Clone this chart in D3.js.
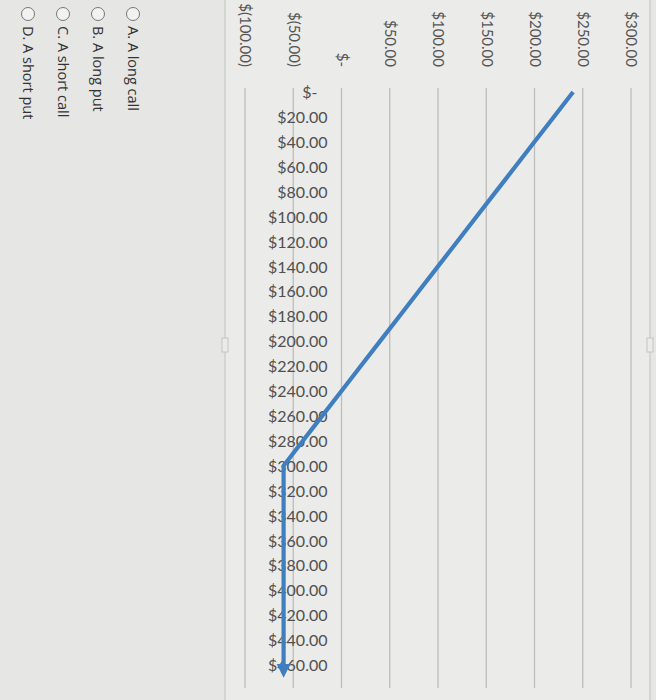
<!DOCTYPE html>
<html>
<head>
<meta charset="utf-8">
<script src="https://cdn.jsdelivr.net/npm/d3@7"></script>
<style>
  body { margin: 0; background: #e7e7e5; }
  svg { display: block; }
</style>
</head>
<body>
<div id="chart"></div>
<script>
// stock prices (category axis)
const prices = ["$-", "$20.00", "$40.00", "$60.00", "$80.00", "$100.00", "$120.00", "$140.00",
  "$160.00", "$180.00", "$200.00", "$220.00", "$240.00", "$260.00", "$280.00", "$300.00",
  "$320.00", "$340.00", "$360.00", "$380.00", "$400.00", "$420.00", "$440.00", "$460.00"]

// payoff at each price
const payoff = [240, 220, 200, 180, 160, 140, 120, 100, 80, 60, 40, 20, 0, -20, -40, -60,
  -60, -60, -60, -60, -60, -60, -60, -60]

const valueTicks = [-100, -50, 0, 50, 100, 150, 200, 250, 300]
const valueLabels = ["$(100.00)", "$(50.00)", "$-", "$50.00", "$100.00", "$150.00", "$200.00", "$250.00", "$300.00"]

const options = ["A. A long call", "B. A long put", "C. A short call", "D. A short put"]

const width = 656
const height = 700
const plotTop = 88
const plotBottom = 688

const svg = d3.select("#chart")
    .append("svg")
    .attr("width", width)
    .attr("height", height)

// photo background + chart frame
svg.append("rect")
    .attr("width", width)
    .attr("height", height)
    .attr("fill", "#e6e6e4")

svg.append("rect")
    .attr("x", 225)
    .attr("y", -2)
    .attr("width", 425)
    .attr("height", height + 4)
    .attr("fill", "#ebebe9")
    .attr("stroke", "#c8c8c6")
    .attr("stroke-width", 1.2)

// little frame handles
svg.selectAll(".handle")
    .data([225, 650])
    .join("rect")
    .attr("class", "handle")
    .attr("x", d => d - 3)
    .attr("y", 338)
    .attr("width", 6)
    .attr("height", 14)
    .attr("fill", "#ebebe9")
    .attr("stroke", "#c4c4c2")

const xScale = d3.scaleLinear()
    .domain([-100, 300])
    .range([245, 631])

const yScale = d3.scalePoint()
    .domain(prices)
    .range([92, 665])

// gridlines
svg.append("g")
    .selectAll("line")
    .data(valueTicks)
    .join("line")
    .attr("x1", d => xScale(d))
    .attr("x2", d => xScale(d))
    .attr("y1", plotTop)
    .attr("y2", plotBottom)
    .attr("stroke", "#bdbdbb")
    .attr("stroke-width", 1.3)

// value axis (rotated labels on top)
const xAxis = d3.axisTop(xScale)
    .tickValues(valueTicks)
    .tickFormat((d, i) => valueLabels[i])
    .tickSize(0)

const gx = svg.append("g")
    .attr("class", "axis x-axis")
    .attr("transform", `translate(0, ${plotTop})`)
    .call(xAxis)

gx.select(".domain").remove()
gx.selectAll("text")
    .attr("y", 0)
    .attr("x", -21)
    .attr("dy", "0.35em")
    .attr("transform", "rotate(90)")
    .style("text-anchor", "end")
    .style("font-family", "Lato, 'Open Sans', sans-serif")
    .style("font-size", "15px")
    .attr("fill", "#555")

// category axis
const yAxis = d3.axisLeft(yScale)
    .tickSize(0)
    .tickPadding(14)

const gy = svg.append("g")
    .attr("class", "axis y-axis")
    .attr("transform", `translate(${xScale(0)}, 0)`)
    .call(yAxis)

gy.select(".domain").remove()
gy.selectAll("text")
    .attr("dy", "0.35em")
    .attr("dx", d => d === "$-" ? -10 : 0)
    .style("font-family", "Lato, 'Open Sans', sans-serif")
    .style("font-size", "16px")
    .attr("fill", "#505050")

// arrow marker
svg.append("defs")
    .append("marker")
    .attr("id", "arrow")
    .attr("viewBox", "0 0 10 10")
    .attr("refX", 1)
    .attr("refY", 5)
    .attr("markerWidth", 3.4)
    .attr("markerHeight", 3.4)
    .attr("orient", "auto")
    .append("path")
    .attr("d", "M0,0 L10,5 L0,10 Z")
    .attr("fill", "#3f7fbf")

const line = d3.line()
    .x((d, i) => xScale(d))
    .y((d, i) => yScale(prices[i]))

svg.append("path")
    .datum(payoff)
    .attr("d", line)
    .attr("fill", "none")
    .attr("stroke", "#3f7fbf")
    .attr("stroke-width", 4.2)
    .attr("stroke-linejoin", "round")
    .attr("marker-end", "url(#arrow)")

// answer options (rotated)
const optX = d3.scalePoint()
    .domain(options)
    .range([133, 28])

const opt = svg.append("g")
    .selectAll("g")
    .data(options)
    .join("g")
    .attr("transform", d => `translate(${optX(d)}, 0)`)

opt.append("circle")
    .attr("cx", 0)
    .attr("cy", 14)
    .attr("r", 6.5)
    .attr("fill", "#f2f2f0")
    .attr("stroke", "#777")
    .attr("stroke-width", 1)

opt.append("text")
    .attr("transform", "translate(0, 26) rotate(90)")
    .attr("dy", "0.35em")
    .style("font-family", "'Open Sans', sans-serif")
    .style("font-size", "14.5px")
    .attr("fill", "#333")
    .text(d => d)
</script>
</body>
</html>
